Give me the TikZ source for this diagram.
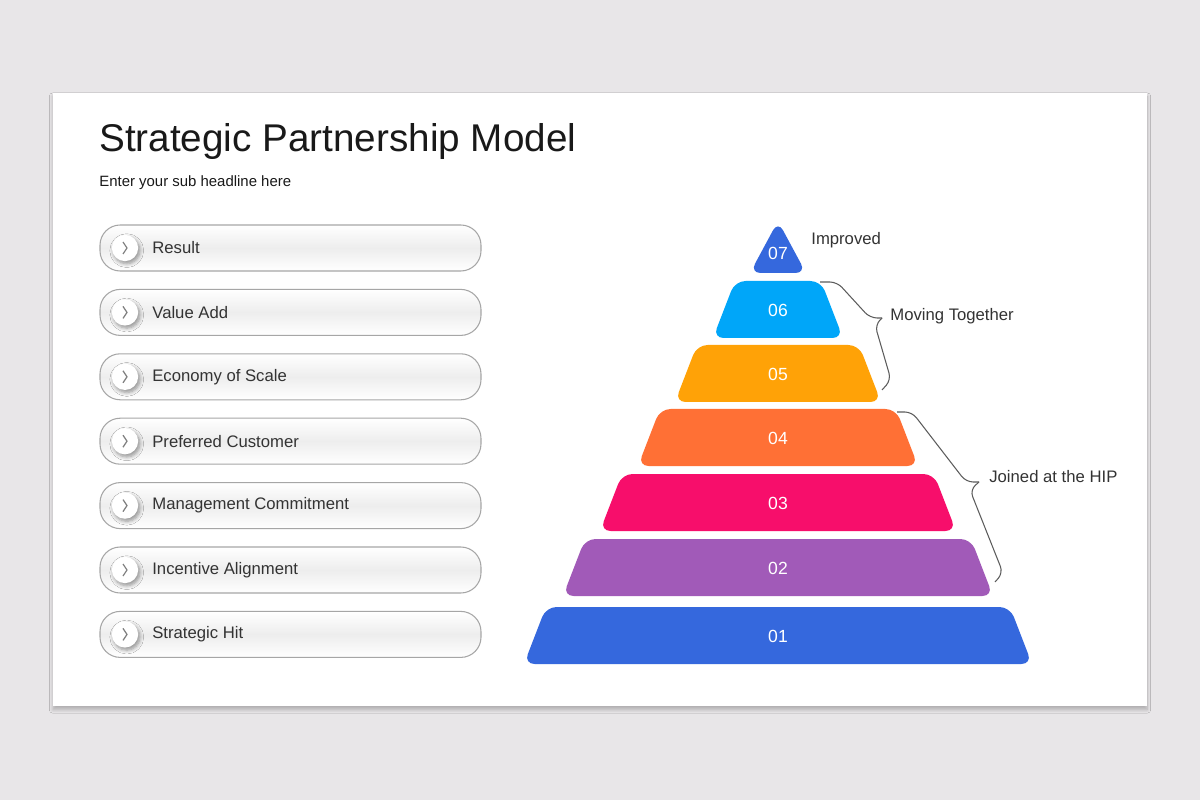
\documentclass[tikz,border=0pt]{standalone}
\usepackage{fontspec}
\setmainfont{Liberation Sans}
\usetikzlibrary{shadows.blur}
\definecolor{bgc}{HTML}{E8E6E8}
\definecolor{c1}{HTML}{3568DD}
\definecolor{c2}{HTML}{A15AB8}
\definecolor{c3}{HTML}{F70E6B}
\definecolor{c4}{HTML}{FF7035}
\definecolor{c5}{HTML}{FFA207}
\definecolor{c6}{HTML}{00A6F9}
\definecolor{c7}{HTML}{3568DD}
\definecolor{txt}{HTML}{333333}
\tikzset{
  btn/.style={draw=gray!70, line width=0.6pt, rounded corners=11.5pt, top color=white, bottom color=white, middle color=gray!14},
  knob/.style={circle, fill=white, minimum size=15pt, inner sep=0pt, blur shadow={shadow xshift=1pt, shadow yshift=-1.5pt, shadow blur steps=6, shadow opacity=40}},
  chev/.style={draw=gray, line width=0.7pt, line join=round},
  lbl/.style={anchor=west, text=txt, font=\fontsize{9.5}{11}\selectfont, inner sep=0pt},
  num/.style={text=white, font=\fontsize{10}{12}\selectfont},
  brace/.style={draw=txt!80, line width=0.6pt, rounded corners=4pt}
}
\begin{document}
\begin{tikzpicture}[x=0.02cm,y=-0.02cm]
\fill[bgc] (0,0) rectangle (1200,800);
\useasboundingbox (0,0) rectangle (1200,800);
\fill[white, blur shadow={shadow blur steps=8, shadow xshift=0pt, shadow yshift=-2pt, shadow opacity=25}] (53,93) rectangle (1147,706);
\node[anchor=west, inner sep=0pt, text=black!90, font=\fontsize{22}{26}\selectfont] (title) at (99,142) {Strategic Partnership Model};
\node[anchor=west, inner sep=0pt, text=black!90, font=\fontsize{8.5}{10}\selectfont] (sub) at (99,183) {Enter your sub headline here};
\foreach \t [count=\i] in {Result,Value Add,Economy of Scale,Preferred Customer,Management Commitment,Incentive Alignment,Strategic Hit}{
  \pgfmathsetmacro{\yc}{248+(\i-1)*64.4}
  \path[btn] (100,\yc-23) rectangle (481,\yc+23);
  \node[knob] (k\i) at (125,\yc) {};
  \path[chev] (k\i.center) ++(-2,-6) -- ++(4,6) -- ++(-4,6);
  \node[lbl] (b\i) at (152,\yc) {\t};
}
% pyramid
\foreach \i/\bh/\yb in {1/254/664,2/215/596,3/178/531,4/140/466,5/103/402,6/65/338}{
  \pgfmathsetmacro{\th}{\bh-22}
  \fill[c\i, rounded corners=6pt] (778-\bh,\yb) -- (778-\th,\yb-57) -- (778+\th,\yb-57) -- (778+\bh,\yb) -- cycle;
  \node[num] (p\i) at (778,\yb-28) {0\i};
}
\fill[c7, rounded corners=6pt] (750,273) -- (778,221) -- (806,273) -- cycle;
\node[num] (p7) at (778,253) {07};
\node[lbl] (l7) at (811,240) {Improved};
\node[lbl] (l6) at (890,316) {Moving Together};
\node[lbl] (l4) at (989,477) {Joined at the HIP};
\path[brace] (820,282) -- (837,282) -- (870,318) -- (882,318);
\path[brace] (882,318) -- (875,325) -- (891,380) -- (882,390);
\path[brace] (897,412) -- (912,412) -- (966,482) -- (979,482);
\path[brace] (979,482) -- (970,490) -- (1003,573) -- (995,582);
\end{tikzpicture}
\end{document}
